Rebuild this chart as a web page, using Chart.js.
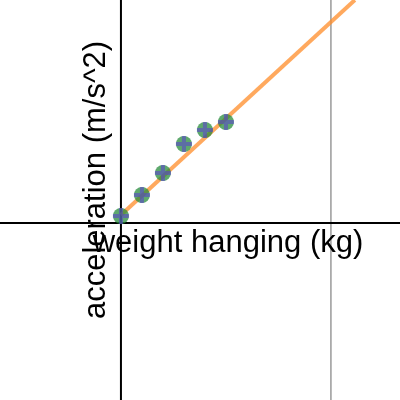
<!DOCTYPE html>
<html><head>
<script src="https://cdn.jsdelivr.net/npm/chart.js@4"></script>
<style>html,body{margin:0;padding:0;background:#fff}#wrap{width:400px;height:400px}</style>
</head><body><div id="wrap"><canvas id="c"></canvas></div>
<script>
// measured points
const massKg = [0, 0.01, 0.02, 0.03, 0.04, 0.05];
const accel = [0.07, 0.28, 0.50, 0.79, 0.93, 1.01];
// fitted line endpoints
const fitX = [0, 0.1114];
const fitY = [0.08, 2.23];

const axesPlugin = {
  id: 'axes',
  beforeDatasetsDraw(chart) {
    const {ctx, scales: {x, y}} = chart;
    const x0 = x.getPixelForValue(0), y0 = y.getPixelForValue(0), xg = x.getPixelForValue(0.1);
    ctx.save();
    ctx.strokeStyle = '#999'; ctx.lineWidth = 1.5;
    ctx.beginPath(); ctx.moveTo(xg, 0); ctx.lineTo(xg, 400); ctx.stroke();
    ctx.strokeStyle = '#000'; ctx.lineWidth = 2;
    ctx.beginPath(); ctx.moveTo(x0, 0); ctx.lineTo(x0, 400);
    ctx.moveTo(0, y0); ctx.lineTo(400, y0); ctx.stroke();
    ctx.fillStyle = '#000'; ctx.font = '31px "Liberation Sans", Arial, sans-serif';
    ctx.textAlign = 'center'; ctx.textBaseline = 'middle';
    ctx.fillText('weight hanging (kg)', 228, 243);
    ctx.translate(96, 180); ctx.rotate(-Math.PI / 2);
    ctx.fillText('acceleration (m/s^2)', 0, 0);
    ctx.restore();
  }
};

new Chart(document.getElementById('c'), {
  type: 'scatter',
  data: {
    datasets: [
      {
        data: fitX.map((v, i) => ({x: v, y: fitY[i]})),
        showLine: true, borderColor: 'rgba(255,140,40,0.75)', borderWidth: 4,
        pointRadius: 0, order: 3, clip: false
      },
      {
        data: massKg.map((v, i) => ({x: v, y: accel[i]})),
        backgroundColor: 'rgba(40,140,60,0.75)', borderWidth: 0,
        pointRadius: 8, order: 2
      },
      {
        data: massKg.map((v, i) => ({x: v, y: accel[i]})),
        pointStyle: 'cross', borderColor: 'rgba(90,70,200,0.6)', borderWidth: 4,
        pointRadius: 8, order: 1
      }
    ]
  },
  options: {
    animation: false, responsive: true, maintainAspectRatio: false,
    layout: {padding: 0, autoPadding: false},
    plugins: {legend: {display: false}, tooltip: {enabled: false}},
    scales: {
      x: {type: 'linear', min: -0.0576, max: 0.1329, display: false},
      y: {type: 'linear', min: -1.77, max: 2.23, display: false}
    }
  },
  plugins: [axesPlugin]
});
</script></body></html>
